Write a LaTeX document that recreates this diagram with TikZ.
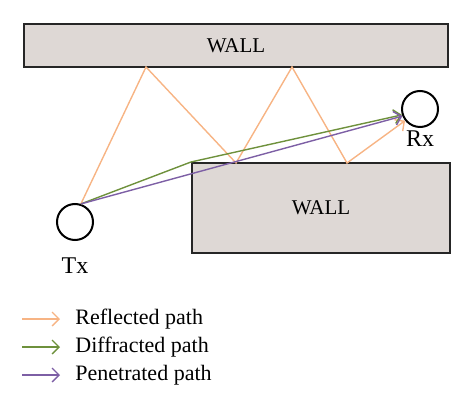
\documentclass[tikz,border=0pt]{standalone}
\usepackage{fontspec}
\setmainfont{Liberation Serif}
\usepackage{xcolor}
\usetikzlibrary{arrows.meta}
\definecolor{wallgray}{RGB}{222,216,213}
\definecolor{reflorange}{RGB}{247,180,132}
\definecolor{diffgreen}{RGB}{110,145,60}
\definecolor{penpurple}{RGB}{125,95,165}

\begin{document}
\begin{tikzpicture}[x=0.5pt,y=-0.5pt,
wall/.style={draw=black!85,line width=1pt,fill=wallgray,inner sep=0pt,font=\fontsize{10.5}{12}\selectfont},
antenna/.style={circle,draw,line width=1pt,minimum size=18pt,inner sep=0pt},
ray/.style={line width=0.7pt},
tip/.style={-{Straight Barb[length=3.5pt,width=7pt]}},
label/.style={font=\fontsize{11}{13}\selectfont,inner sep=0pt}]
\useasboundingbox (0,0) rectangle (474,410);
\tikzstyle{every node}=[label]
    \node[wall,minimum width=212pt,minimum height=21.5pt] (TopWall) at (236,45.5) {WALL};
    \node[wall,minimum width=129pt,minimum height=45pt] (LowWall) at (321,208) {WALL};
    \node[antenna] (Tx) at (75,222) {};
    \node[antenna] (Rx) at (420,109) {};
    \node[font=\fontsize{12}{14}\selectfont] at (75,266) (TxLabel) {Tx};
    \node[font=\fontsize{12}{14}\selectfont] at (420,139) (RxLabel) {Rx};
    % bounce points on the walls
    \coordinate (B1) at (146,67);
    \coordinate (B2) at (236,163);
    \coordinate (B3) at (292,67);
    \coordinate (B4) at (347,163);
    \draw[ray,reflorange,tip] (Tx.72) -- (B1) -- (B2) -- (B3) -- (B4) -- (Rx.218);
    \draw[ray,diffgreen,tip] (Tx.72) -- (LowWall.north west) -- (Rx.198);
    \draw[ray,penpurple,tip] (Tx.72) -- (Rx.202);
   % Legend
   \begin{scope}[every node/.style={label,anchor=west}]
     \coordinate (L1) at (22,319); \coordinate (L1e) at (60,319);
     \coordinate (L2) at (22,347); \coordinate (L2e) at (60,347);
     \coordinate (L3) at (22,375); \coordinate (L3e) at (60,375);
     \draw[ray,reflorange,tip] (L1) -- (L1e);
     \draw[ray,diffgreen,tip] (L2) -- (L2e);
     \draw[ray,penpurple,tip] (L3) -- (L3e);
     \node (Refl) at (75,319) {Reflected path};
     \node (Diff) at (75,347) {Diffracted path};
     \node (Pen) at (75,375) {Penetrated path};
   \end{scope}
\end{tikzpicture}
\end{document}
